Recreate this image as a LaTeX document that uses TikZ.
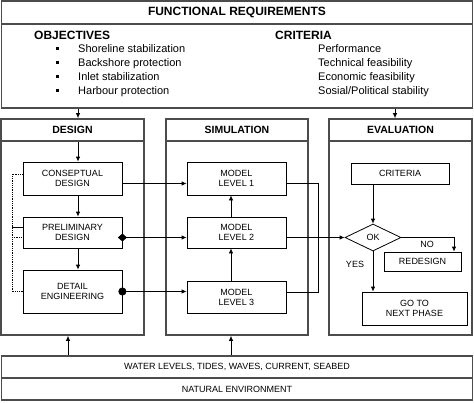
\documentclass[tikz,border=0pt]{standalone}
\usepackage{fontspec}
\setmainfont{Liberation Sans}
\usetikzlibrary{arrows.meta,shapes.geometric}

\tikzset{
  frame/.style={draw=black!70, line width=1.6pt, inner sep=0pt},
  blk/.style={draw, line width=0.8pt, align=center, inner sep=0pt, font=\fontsize{9}{10}\selectfont},
  colhd/.style={frame, font=\fontsize{10.5}{12}\selectfont\bfseries},
  lst/.style={anchor=base west, inner sep=0pt, font=\fontsize{11}{13}\selectfont},
  arr/.style={line width=0.8pt, -{Latex[length=5pt,width=4.5pt]}},
  lnk/.style={line width=0.9pt},
  fb/.style={line width=0.8pt, densely dotted}
}

\begin{document}
\begin{tikzpicture}[x=1pt,y=-1pt]
  \useasboundingbox (0,0) rectangle (474,402);

  % Functional requirements
  \node[frame, minimum width=471pt, minimum height=107pt] (req) at (237,54.5) {};
  \node[frame, minimum width=471pt, minimum height=23pt, font=\fontsize{12}{14}\selectfont\bfseries] (reqhd) at (237,12.5) {FUNCTIONAL REQUIREMENTS};
  \node[lst, font=\fontsize{12}{14}\selectfont\bfseries] (obj) at (34,39.5) {OBJECTIVES};
  \node[lst, font=\fontsize{12}{14}\selectfont\bfseries] (crt) at (275,39.5) {CRITERIA};

  \foreach \i/\y/\txt in {1/48/Shoreline stabilization, 2/62/Backshore protection, 3/76/Inlet stabilization, 4/90/Harbour protection}
  {
    \node[fill, minimum size=3pt, inner sep=0pt] (bul\i) at (57,\y) {};
    \node[lst] (obj\i) at (78,\y+4) {\txt};
  }
  \foreach \i/\y/\txt in {1/48/Performance, 2/62/Technical feasibility, 3/76/Economic feasibility, 4/90/{Sosial/Political stability}}
  {
    \node[lst] (crt\i) at (318,\y+4) {\txt};
  }

  % Three columns
  \node[frame, minimum width=143pt, minimum height=216pt] (dsg) at (72.5,227) {};
  \node[colhd, minimum width=143pt, minimum height=22pt] (dsghd) at (72.5,130) {DESIGN};
  \node[frame, minimum width=142pt, minimum height=216pt] (sim) at (237,227) {};
  \node[colhd, minimum width=142pt, minimum height=22pt] (simhd) at (237,130) {SIMULATION};
  \node[frame, minimum width=143pt, minimum height=216pt] (evl) at (400.5,227) {};
  \node[colhd, minimum width=143pt, minimum height=22pt] (evlhd) at (400.5,130) {EVALUATION};

  % Design
  \node[blk, minimum width=99pt, minimum height=33pt] (cd) at (72.5,178.5) {CONSEPTUAL\\DESIGN};
  \node[blk, minimum width=99pt, minimum height=31pt] (pd) at (72.5,232.5) {PRELIMINARY\\DESIGN};
  \node[blk, minimum width=99pt, minimum height=43pt] (de) at (72.5,291.5) {DETAIL\\ENGINEERING};

  % Simulation
  \node[blk, minimum width=99pt, minimum height=33pt] (m1) at (236.5,178.5) {MODEL\\LEVEL 1};
  \node[blk, minimum width=99pt, minimum height=31pt] (m2) at (236.5,232.5) {MODEL\\LEVEL 2};
  \node[blk, minimum width=99pt, minimum height=32pt] (m3) at (236.5,297) {MODEL\\LEVEL 3};

  % Evaluation
  \node[blk, minimum width=98pt, minimum height=21pt] (crit) at (400,173.5) {CRITERIA};
  \node[blk, diamond, aspect=2, minimum width=56pt, minimum height=27pt] (ok) at (373,237.5) {OK};
  \node[blk, minimum width=77pt, minimum height=19pt] (red) at (422.5,261.5) {REDESIGN};
  \node[blk, minimum width=105pt, minimum height=33pt] (nxt) at (414.5,308.5) {GO TO\\NEXT PHASE};
  \node[font=\fontsize{9}{10}\selectfont] (no) at (427,244) {NO};
  \node[font=\fontsize{9}{10}\selectfont] (yes) at (355,264) {YES};

  % Natural environment
  \node[frame, minimum width=471pt, minimum height=22pt, font=\fontsize{9}{10}\selectfont] (wat) at (237,367) {WATER LEVELS, TIDES, WAVES, CURRENT, SEABED};
  \node[frame, minimum width=471pt, minimum height=22pt, font=\fontsize{9}{10}\selectfont] (nat) at (237,389) {NATURAL ENVIRONMENT};

  % Arrows in and out of the columns
  \draw[arr] ([xshift=5.5pt]dsghd.north |- req.south) -- ([xshift=5.5pt]dsghd.north);
  \draw[arr] ([xshift=-5.5pt]evlhd.north |- req.south) -- ([xshift=-5.5pt]evlhd.north);
  \draw[arr] ([xshift=-4.5pt]dsg.south |- wat.north) -- ([xshift=-4.5pt]dsg.south);
  \draw[arr] ([xshift=-6pt]wat.north) -- ([xshift=-6pt]sim.south);

  % Design steps
  \draw[arr] ([xshift=5.5pt]dsghd.south) -- ([xshift=5.5pt]cd.north);
  \draw[arr] ([xshift=5.5pt]cd.south) -- ([xshift=5.5pt]pd.north);
  \draw[arr] ([xshift=5.5pt]pd.south) -- ([xshift=5.5pt]de.north);

  % Feedback (dotted)
  \coordinate (fbl) at (12,174);
  \draw[fb] ([yshift=4.5pt]cd.west) -- (fbl) |- (de.west);
  \draw[lnk] ([yshift=5.5pt]pd.west -| fbl) -- ([yshift=5.5pt]pd.west);
  \draw[fb] ([yshift=-5pt]pd.west -| fbl) -- ([yshift=-5pt]pd.west);

  % Design to simulation
  \draw[arr] ([yshift=-5pt]cd.east) -- ([yshift=-5pt]cd.east -| m1.west);
  \draw[line width=0.8pt, {Diamond[length=9pt,width=8pt]}-{Latex[length=5pt,width=4.5pt]}] ([xshift=-4.5pt,yshift=-5pt]pd.east) -- ([yshift=-5pt]pd.east -| m2.west);
  \draw[line width=0.8pt, {Circle[length=8pt]}-{Latex[length=5pt,width=4.5pt]}] ([xshift=-4pt]de.east) -- (de.east -| m3.west);

  % Model levels
  \draw[arr] ([xshift=-5.5pt]m3.north) -- ([xshift=-5.5pt]m2.south);
  \draw[arr] ([xshift=-5.5pt]m2.north) -- ([xshift=-5.5pt]m1.south);
  \coordinate (jn) at (318,183.5);
  \draw[lnk] ([yshift=-5pt]m1.east) -- (jn) |- ([yshift=5pt]m3.east);
  \draw[arr] (m2.east |- ok.west) -- (ok.west);

  % Evaluation steps
  \draw[arr] (crit.south -| ok.north) -- (ok.north);
  \draw[arr] (ok.south) -- (ok.south |- nxt.north);
  \coordinate (noc) at (454,237.5);
  \draw[arr] (ok.east) -- (noc) -- (noc |- red.north);
\end{tikzpicture}
\end{document}
